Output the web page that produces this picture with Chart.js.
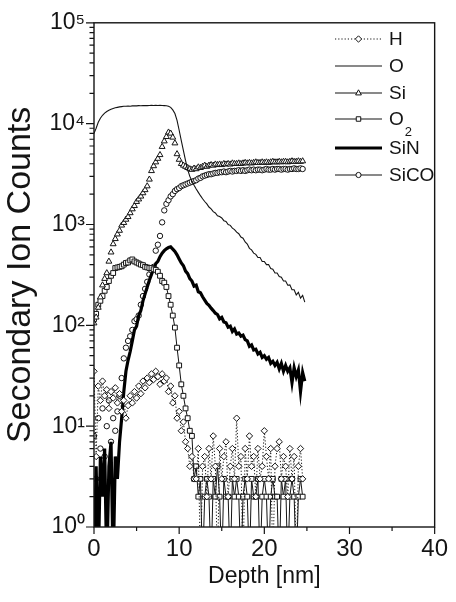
<!DOCTYPE html>
<html>
<head>
<meta charset="utf-8">
<script src="https://cdn.jsdelivr.net/npm/chart.js@4"></script>
<style>
html,body{margin:0;padding:0;background:#fff;}
#wrap{width:456px;height:602px;}
</style>
</head>
<body>
<div id="wrap"><canvas id="c" width="456" height="602"></canvas></div>
<script>
// ---- data ----
const depth = [
 0,0.25,0.5,0.75,1,1.25,1.5,1.75,2,2.25,
 2.5,2.75,3,3.25,3.5,3.75,4,4.25,4.5,4.75,
 5,5.25,5.5,5.75,6,6.25,6.5,6.75,7,7.25,
 7.5,7.75,8,8.25,8.5,8.75,9,9.25,9.5,9.75,
 10,10.25,10.5,10.75,11,11.25,11.5,11.75,12,12.25,
 12.5,12.75,13,13.25,13.5,13.75,14,14.25,14.5,14.75,
 15,15.25,15.5,15.75,16,16.25,16.5,16.75,17,17.25,
 17.5,17.75,18,18.25,18.5,18.75,19,19.25,19.5,19.75,
 20,20.25,20.5,20.75,21,21.25,21.5,21.75,22,22.25,
 22.5,22.75,23,23.25,23.5,23.75,24,24.25,24.5,24.75
];
const hCounts = [
 35,5,25,18,28,20,23,15,22,19,
 24,17,21,14,18,12,16,20,17,22,
 19,25,21,28,24,30,27,33,29,35,
 31,26,33,28,30,22,25,17,20,12,
 14,9,11,7,6,4,5,3,3,6,
 0,4,5,2,6,3,8,4,0,6,
 3,5,7,2,4,6,3,12,4,5,
 0,6,3,8,4,5,2,6,3,4,
 9,5,3,6,0,4,6,7,3,5,
 4,2,6,3,5,0,4,6,3,null
];
const oCounts = [
 8000,9000,10300,11300,12100,12700,13200,13600,13900,14150,
 14350,14500,14650,14750,14850,14900,14950,14900,15000,15050,
 15000,15100,15050,15100,15150,15100,15150,15200,15150,15200,
 15150,15200,15150,15100,15050,14900,14500,13700,12600,10800,
 8600,6800,5400,4300,3500,3000,2700,2450,2250,2080,
 1930,1800,1690,1600,1490,1430,1340,1300,1220,1200,
 1160,1090,1070,1000,980,920,890,840,810,750,
 730,670,640,580,560,520,505,470,470,430,
 430,400,400,365,360,330,330,305,300,275,
 275,250,252,226,225,200,212,186,198,170
];
const siCounts = [
 105,120,150,190,250,290,330,430,530,640,
 720,800,870,980,1040,1120,1190,1300,1420,1530,
 1680,1780,1900,2050,2200,2400,2800,3400,3800,4150,
 4500,4900,5900,6700,7400,8200,8000,7300,6400,5000,
 4400,4000,3850,3750,3650,3550,3500,3600,3550,3700,
 3650,3750,3850,3750,3850,3900,3850,3950,3900,3950,
 3900,4000,3950,4000,3950,4050,4000,4000,4050,4000,
 4050,4100,4050,4100,4050,4100,4150,4100,4100,4150,
 4100,4150,4100,4150,4200,4150,4150,4200,4150,4200,
 4200,4150,4200,4250,4200,4200,4250,4200,4250,null
];
const o2Counts = [
 115,130,160,175,195,220,240,275,310,330,
 370,375,380,385,400,415,420,440,450,430,
 420,410,400,395,380,375,370,370,360,355,
 340,310,275,265,240,195,160,125,95,60,
 40,26,20,15,12,9,8,3,4,2,
 3,0,2,3,2,0,3,2,4,2,
 0,3,2,2,0,3,2,3,2,0,
 2,3,2,0,3,2,2,3,0,2,
 3,2,0,2,3,2,2,0,3,2,
 3,0,2,3,2,0,2,3,2,null
];
const sinCounts = [
 0,4,0,5,2,6,0,4,7,0,
 5,3,7,12,22,35,45,55,70,90,
 98,125,140,175,205,240,280,320,360,410,
 430,480,520,550,575,590,600,570,540,500,
 455,415,390,345,325,290,275,245,250,215,
 210,192,178,165,158,148,140,132,128,116,
 120,108,106,96,98,87,92,82,84,78,
 80,72,70,62,64,57,58,52,54,48,
 50,46,48,42,44,40,43,37,42,35,
 40,35,38,27,38,31,36,22,34,28
];
const sicoCounts = [
 8,3,12,6,15,5,10,18,7,12,
 9,14,20,30,47,60,70,78,90,110,
 115,125,160,195,230,270,320,350,380,550,
 630,770,1050,1380,1600,1740,1900,2000,2150,2240,
 2300,2400,2450,2500,2550,2600,2650,2700,2750,2850,
 2900,3000,3050,3100,3150,3150,3200,3250,3250,3300,
 3300,3350,3300,3350,3400,3350,3400,3400,3450,3400,
 3450,3400,3450,3500,3450,3500,3450,3500,3500,3450,
 3500,3550,3500,3500,3550,3500,3550,3550,3500,3550,
 3550,3500,3550,3550,3600,3550,3550,3600,3550,null
];
const seriesNames = ['H','O','Si','O2','SiN','SiCO'];
const xTickValues = [0,10,20,30,40];
const xMinorTicks = [5,15,25,35];
const yDecades = [0,1,2,3,4,5];
const supDigits = ['\u2070','\u00B9','\u00B2','\u00B3','\u2074','\u2075'];

// ---- build ----
const INK = '#141414';
function pts(arr){
  return arr.map((v,i)=>({x: depth[i], y: v===null ? null : (v>0 ? v : 0.4)}));
}
const datasets = [
  {label: seriesNames[0], data: pts(hCounts), borderColor: INK, borderWidth: 1, borderDash:[1.2,2],
   pointStyle:'rectRot', pointRadius:3.2, pointBackgroundColor:'#fff', pointBorderColor:INK, pointBorderWidth:1},
  {label: seriesNames[1], data: pts(oCounts), borderColor: INK, borderWidth: 1.1, pointRadius:0},
  {label: seriesNames[2], data: pts(siCounts), showLine:false, borderColor: INK, borderWidth:1,
   pointStyle:'triangle', pointRadius:3.4, pointBackgroundColor:'#fff', pointBorderColor:INK, pointBorderWidth:1},
  {label: seriesNames[3], data: pts(o2Counts), borderColor: INK, borderWidth: 1,
   pointStyle:'rect', pointRadius:3.4, pointBackgroundColor:'#fff', pointBorderColor:INK, pointBorderWidth:1},
  {label: seriesNames[4], data: pts(sinCounts), borderColor: '#000', borderWidth: 3.2, pointRadius:0},
  {label: seriesNames[5], data: pts(sicoCounts), showLine:false, borderColor: INK, borderWidth:1,
   pointStyle:'circle', pointRadius:2.7, pointBackgroundColor:'#fff', pointBorderColor:INK, pointBorderWidth:1}
];
datasets.forEach(d=>{ d.tension = 0; d.spanGaps = false; d.pointHoverRadius = d.pointRadius; });

function drawMarker(ctx, style, x, y, r){
  ctx.save();
  ctx.fillStyle='#fff'; ctx.strokeStyle=INK; ctx.lineWidth=1;
  ctx.beginPath();
  if(style==='rectRot'){ ctx.moveTo(x,y-r); ctx.lineTo(x+r,y); ctx.lineTo(x,y+r); ctx.lineTo(x-r,y); ctx.closePath(); }
  else if(style==='triangle'){ ctx.moveTo(x,y-r); ctx.lineTo(x+r*0.9,y+r*0.6); ctx.lineTo(x-r*0.9,y+r*0.6); ctx.closePath(); }
  else if(style==='rect'){ const s=r*0.7; ctx.rect(x-s,y-s,2*s,2*s); }
  else if(style==='circle'){ ctx.arc(x,y,r,0,Math.PI*2); }
  ctx.fill(); ctx.stroke(); ctx.restore();
}

const framePlugin = {
  id:'frame',
  afterDraw(chart){
    const ctx = chart.ctx, a = chart.chartArea;
    const xs = chart.scales.x, ys = chart.scales.y;
    ctx.save();
    ctx.strokeStyle = INK; ctx.lineWidth = 1.4;
    ctx.strokeRect(a.left, a.top, a.right-a.left, a.bottom-a.top);
    ctx.lineWidth = 1.2;
    ctx.beginPath();
    yDecades.forEach(p=>{
      const yy = ys.getPixelForValue(Math.pow(10,p));
      ctx.moveTo(a.left, yy); ctx.lineTo(a.left-8, yy);
      if(p<5){
        for(let m=2;m<=9;m++){
          const ym = ys.getPixelForValue(m*Math.pow(10,p));
          ctx.moveTo(a.left, ym); ctx.lineTo(a.left-4.5, ym);
        }
      }
    });
    xTickValues.forEach(v=>{ const xx = xs.getPixelForValue(v); ctx.moveTo(xx,a.bottom); ctx.lineTo(xx,a.bottom+7); });
    xMinorTicks.forEach(v=>{ const xx = xs.getPixelForValue(v); ctx.moveTo(xx,a.bottom); ctx.lineTo(xx,a.bottom+4); });
    ctx.stroke();

    // legend (inside plot, upper right)
    const lx0 = 335, lx1 = 382, tx = 389;
    const rows = [39, 66, 93, 119, 148, 175];
    ctx.font = '19px "Liberation Sans", Arial, sans-serif';
    ctx.textBaseline = 'middle'; ctx.textAlign = 'left'; ctx.fillStyle = INK;
    datasets.forEach((d,i)=>{
      const yy = rows[i];
      ctx.save();
      ctx.strokeStyle = d.borderColor;
      ctx.lineWidth = i===4 ? 3.2 : 1.1;
      if(i===0) ctx.setLineDash([1.2,2]);
      ctx.beginPath(); ctx.moveTo(lx0,yy); ctx.lineTo(lx1,yy); ctx.stroke();
      ctx.restore();
      if(d.pointRadius>0 && d.pointStyle){ drawMarker(ctx, d.pointStyle, (lx0+lx1)/2, yy, d.pointStyle==='circle'?2.6:3.2); }
      if(d.label==='O2'){
        ctx.fillText('O', tx, yy+1);
        const w = ctx.measureText('O').width;
        ctx.save(); ctx.font = '13px "Liberation Sans", Arial, sans-serif';
        ctx.fillText('2', tx+w+1, yy+13); ctx.restore();
      } else {
        ctx.fillText(d.label, tx, yy+1);
      }
    });
    ctx.restore();
  }
};

new Chart(document.getElementById('c'), {
  type:'line',
  data:{ datasets },
  options:{
    responsive:false,
    animation:false,
    events:[],
    layout:{ padding:{ top:14, right:17, left:0, bottom:0 } },
    plugins:{ legend:{display:false}, tooltip:{enabled:false} },
    scales:{
      x:{
        type:'linear', min:0, max:40,
        afterFit(s){ s.height = 75; },
        grid:{ display:false, drawTicks:false },
        border:{ display:false },
        ticks:{ stepSize:10, padding:8, color:INK, font:{ family:'"Liberation Sans", Arial, sans-serif', size:24 } },
        title:{ display:true, text:'Depth [nm]', color:INK, padding:{top:0,bottom:12},
                font:{ family:'"Liberation Sans", Arial, sans-serif', size:23 } }
      },
      y:{
        type:'logarithmic', min:1, max:100000,
        afterFit(s){ s.width = 94; },
        grid:{ display:false, drawTicks:false },
        border:{ display:false },
        ticks:{
          autoSkip:false, padding:9, color:INK,
          font:{ family:'"Liberation Sans", Arial, sans-serif', size:23 },
          callback(v){
            const p = Math.round(Math.log10(v));
            return Math.abs(Math.pow(10,p)-v) < 1e-6*v ? '10'+supDigits[p] : '';
          }
        },
        title:{ display:true, text:'Secondary Ion Counts', color:INK, padding:{top:0,bottom:0},
                font:{ family:'"Liberation Sans", Arial, sans-serif', size:34 } }
      }
    }
  },
  plugins:[framePlugin]
});
</script>
</body>
</html>
